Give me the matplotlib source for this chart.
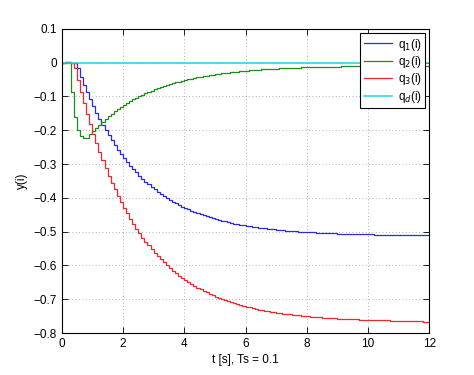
import numpy as np
import matplotlib.pyplot as plt
from matplotlib.ticker import FuncFormatter

plt.rcParams['font.family'] = ['Liberation Sans', 'DejaVu Sans']
plt.rcParams['font.size'] = 8.5

Ts = 0.1
t = np.round(np.arange(121) * Ts, 1)

q1 = [0, 0.003, 0.003, 0, -0.002,
      -0.016, -0.041, -0.065, -0.087, -0.108, -0.129, -0.148, -0.166, -0.183, -0.200,
      -0.215, -0.230, -0.244, -0.258, -0.271, -0.283, -0.294,
      -0.305, -0.315, -0.325, -0.335, -0.344, -0.352, -0.360, -0.368, -0.375, -0.382,
      -0.388, -0.394, -0.400, -0.406, -0.411, -0.416, -0.421, -0.426, -0.430, -0.434,
      -0.438, -0.442, -0.445, -0.449, -0.452, -0.455, -0.458, -0.460, -0.463, -0.465,
      -0.468, -0.470, -0.472, -0.474, -0.476, -0.478, -0.479, -0.481, -0.483, -0.484,
      -0.485, -0.487, -0.488, -0.489, -0.490, -0.491, -0.492, -0.493, -0.494, -0.495,
      -0.496, -0.497, -0.498, -0.498, -0.499, -0.500, -0.500, -0.501, -0.501, -0.502,
      -0.502, -0.503, -0.503, -0.504, -0.504, -0.505, -0.505, -0.505, -0.506, -0.506,
      -0.506, -0.507, -0.507, -0.507, -0.507, -0.508, -0.508, -0.508, -0.508, -0.508,
      -0.509, -0.509, -0.509, -0.509, -0.509, -0.509, -0.510, -0.510, -0.510, -0.510,
      -0.510, -0.510, -0.510, -0.510, -0.510, -0.511, -0.511, -0.511, -0.511]

q2 = [0, 0, 0, -0.088, -0.160, -0.200, -0.216, -0.222,
      -0.222, -0.212, -0.202, -0.192, -0.183, -0.175, -0.167, -0.159, -0.151, -0.144,
      -0.138, -0.132, -0.125, -0.120, -0.114, -0.109, -0.104, -0.100, -0.095, -0.091,
      -0.087, -0.083, -0.079, -0.076, -0.073, -0.069, -0.066, -0.064, -0.061, -0.058,
      -0.056, -0.053, -0.051, -0.049, -0.047, -0.045, -0.043, -0.042, -0.040, -0.039,
      -0.037, -0.036, -0.034, -0.033, -0.032, -0.031, -0.030, -0.028, -0.027, -0.027,
      -0.026, -0.025, -0.024, -0.023, -0.022, -0.022, -0.021, -0.020, -0.020, -0.019,
      -0.019, -0.018, -0.018, -0.017, -0.017, -0.016, -0.016, -0.016, -0.015, -0.015,
      -0.014, -0.014, -0.014, -0.014, -0.013, -0.013, -0.013, -0.013, -0.012, -0.012,
      -0.012, -0.012, -0.012, -0.011, -0.011, -0.011, -0.011, -0.011, -0.011, -0.011,
      -0.010, -0.010, -0.010, -0.010, -0.010, -0.010, -0.010, -0.010, -0.010, -0.010,
      -0.009, -0.009, -0.009, -0.009, -0.009, -0.009, -0.009, -0.009, -0.009, -0.009,
      -0.009, -0.009, -0.009]

q3 = [0, 0.003, 0.003, 0,
      -0.016, -0.052, -0.087, -0.120, -0.152, -0.182, -0.211, -0.238, -0.264, -0.288,
      -0.312, -0.334, -0.355, -0.375, -0.394, -0.413, -0.430, -0.446, -0.462, -0.477,
      -0.491, -0.505, -0.518, -0.530, -0.541, -0.552, -0.563, -0.573, -0.582, -0.591,
      -0.600, -0.608, -0.616, -0.623, -0.631, -0.637, -0.644, -0.650, -0.655, -0.661,
      -0.666, -0.671, -0.676, -0.680, -0.685, -0.689, -0.693, -0.696, -0.700, -0.703,
      -0.706, -0.709, -0.712, -0.715, -0.717, -0.720, -0.722, -0.724, -0.727, -0.729,
      -0.731, -0.732, -0.734, -0.736, -0.737, -0.739, -0.740, -0.742, -0.743, -0.744,
      -0.745, -0.746, -0.747, -0.748, -0.749, -0.750, -0.751, -0.752, -0.753, -0.754,
      -0.754, -0.755, -0.756, -0.756, -0.757, -0.757, -0.758, -0.758, -0.759, -0.759,
      -0.760, -0.760, -0.760, -0.761, -0.761, -0.762, -0.762, -0.762, -0.762, -0.763,
      -0.763, -0.763, -0.763, -0.764, -0.764, -0.764, -0.764, -0.764, -0.765, -0.765,
      -0.765, -0.765, -0.765, -0.765, -0.766, -0.766, -0.766]

qd = [0.0] * len(t)

series = [q1, q2, q3, qd]
labels = ['q$_1$(i)', 'q$_2$(i)', 'q$_3$(i)', 'q$_d$(i)']
colors = ['#2a2ae8', '#1e8c1e', '#f0282d', '#1ed6e6']
widths = [0.9, 0.9, 0.9, 1.1]

fig = plt.figure(figsize=(4.74, 3.75), dpi=100)
ax = fig.add_axes([0.130, 0.112, 0.776, 0.811])

for y, lab, c, w in zip(series, labels, colors, widths):
    ax.step(t, y, where='post', color=c, lw=w, label=lab)


def fmt(v, pos):
    s = '%g' % (round(v, 1) + 0.0)
    return s.replace('-', '\u2212')


ax.set_xlim(0, 12)
ax.set_ylim(-0.8, 0.1)
ax.set_xticks(np.arange(0, 13, 2))
ax.set_yticks(np.arange(-8, 2) / 10)
ax.yaxis.set_major_formatter(FuncFormatter(fmt))
ax.grid(True, linestyle=(0, (1, 3)), color='#999999', lw=0.6)
ax.tick_params(direction='in', top=True, right=True, length=4, width=0.6)
for s in ax.spines.values():
    s.set_linewidth(0.8)

ax.set_xlabel('t [s], Ts = 0.1', labelpad=3)
ax.set_ylabel('y(i)', labelpad=4)

leg = ax.legend(loc='upper right', fancybox=False, edgecolor='black',
                framealpha=1, handlelength=2.4, borderaxespad=0.35,
                labelspacing=0.12, borderpad=0.3, handletextpad=0.5)
leg.get_frame().set_linewidth(0.8)

fig.savefig('out.png', dpi=100)
